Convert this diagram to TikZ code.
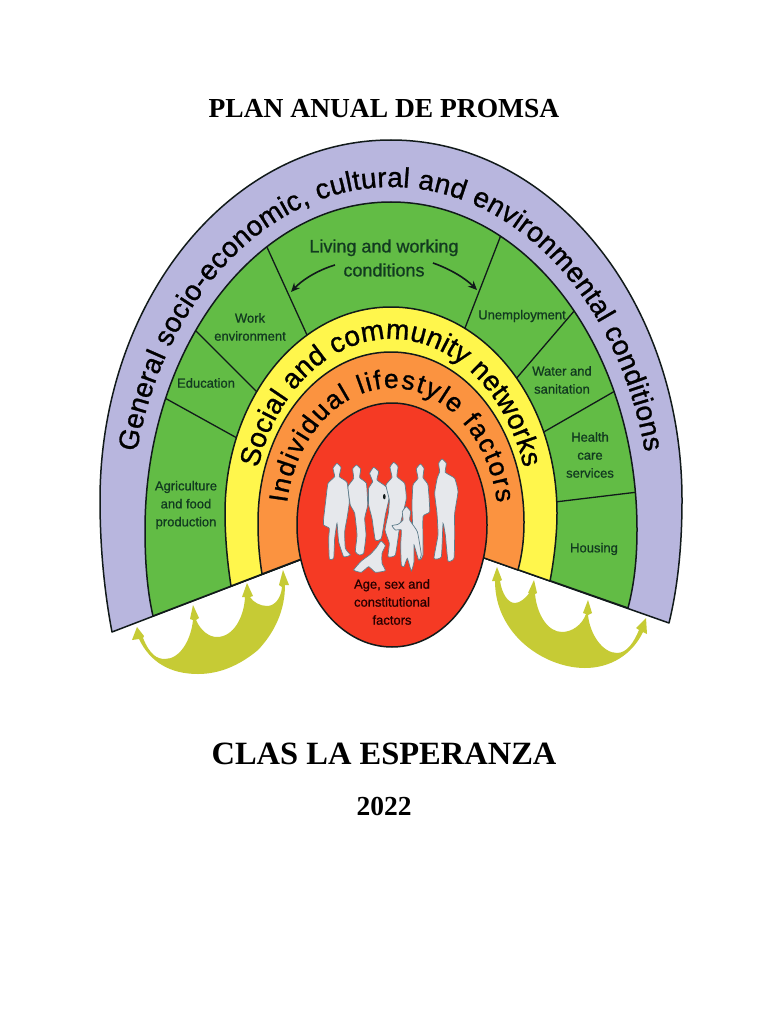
\documentclass[tikz,border=0pt]{standalone}
\usepackage{fontspec}
\setmainfont{Liberation Serif}
\newfontfamily\lab[FakeBold=0.8]{Liberation Sans}
\newfontfamily\arcf[FakeBold=1.0]{Liberation Sans}
\usetikzlibrary{decorations.text,arrows.meta}
\definecolor{cPurple}{HTML}{B8B6DE}
\definecolor{cGreen}{HTML}{62BC45}
\definecolor{cYellow}{HTML}{FFF64C}
\definecolor{cOrange}{HTML}{FB9340}
\definecolor{cRed}{HTML}{F53A24}
\definecolor{cOlive}{HTML}{C6CB35}
\definecolor{cInk}{HTML}{111A1A}
\definecolor{cLab}{HTML}{123A20}
\definecolor{cPerson}{HTML}{E6E8EC}
\definecolor{cEdge}{HTML}{5E7D8C}
\tikzset{
  band/.style={draw=cInk,line width=1.5pt,line join=round},
  divider/.style={draw=cInk,line width=1.3pt},
  lbl/.style={font=\lab\fontsize{13}{18}\selectfont,text=cLab,align=center,inner sep=0pt},
  bigl/.style={font=\lab\fontsize{18}{24}\selectfont,text=cLab,align=center,inner sep=0pt},
  redl/.style={font=\lab\fontsize{13}{18}\selectfont,text=black!85!red,align=center,inner sep=0pt},
  ttl/.style={inner sep=0pt},
  curved/.style={draw=cInk,line width=1.6pt,-{Stealth[length=9pt,width=8pt,inset=3pt]}},
  person/.style={fill=cPerson,draw=cEdge,line width=.7pt},
  arctext/.style={decorate,decoration={text along path,text align={fit to path}}}
}
\def\greenshape{(153,616) .. controls (147,590) and (145,560) .. (145,530) .. controls (145,349) and (255,202) .. (391,202) .. controls (527,202) and (637,349) .. (637,530) .. controls (637,560) and (634,585) .. (628,608) -- (391,525) -- cycle}
\begin{document}
\begin{tikzpicture}[x=1pt,y=-1pt]
\useasboundingbox[fill=white] (0,0) rectangle (768,1024);
% titles
\node[ttl,font=\bfseries\fontsize{27.5}{30}\selectfont] (t1) at (384,109) {PLAN ANUAL DE PROMSA};
\node[ttl,font=\bfseries\fontsize{32.5}{40}\selectfont] (t2) at (384,754) {CLAS LA ESPERANZA};
\node[ttl,font=\bfseries\fontsize{27.5}{30}\selectfont] (t3) at (384,806) {2022};
% nested bands
\path[band,fill=cPurple] (112,632) .. controls (104,590) and (100,545) .. (100,500) .. controls (100,301) and (230,140) .. (391,140) .. controls (552,140) and (682,301) .. (682,500) .. controls (682,550) and (677,590) .. (669,623) -- (391,525) -- cycle;
\path[band,fill=cGreen] \greenshape;
% dividers
\coordinate (d1a) at (237,438); \coordinate (d1b) at (163,397);
\coordinate (d2a) at (257,392); \coordinate (d2b) at (193,328);
\coordinate (d3a) at (307,335); \coordinate (d3b) at (266,245);
\coordinate (d4a) at (465,328); \coordinate (d4b) at (501,235);
\coordinate (d5a) at (515,380); \coordinate (d5b) at (575,310);
\coordinate (d6a) at (542,433); \coordinate (d6b) at (615,391);
\coordinate (d7a) at (555,502); \coordinate (d7b) at (638,492);
\begin{scope}
\clip \greenshape;
\foreach \n in {1,...,7}{\draw[divider] (d\n a) -- (d\n b);}
\end{scope}
\path[band,fill=cYellow] (231,586) .. controls (227,560) and (225,535) .. (225,513) .. controls (225,399) and (299,307) .. (391,307) .. controls (483,307) and (557,399) .. (557,513) .. controls (557,535) and (554,560) .. (550,581) -- (391,525) -- cycle;
\path[band,fill=cOrange] (262,574) .. controls (259,555) and (258,540) .. (258,522) .. controls (258,428) and (317.5,352) .. (391,352) .. controls (464.5,352) and (524,428) .. (524,522) .. controls (524,540) and (522,555) .. (518,570) -- (391,525) -- cycle;
\draw[band,fill=cRed] (392,525) ellipse [x radius=95,y radius=122];
% arc text
\begin{scope}[transform canvas={scale=4},x=.25pt,y=-.25pt]
\path[arctext,decoration={text={|\arcf\fontsize{7}{7}\selectfont|General socio-economic, cultural and environmental conditions}}] (136.8,452) .. controls (164.4,296.7) and (269.6,187) .. (391,187) .. controls (512.4,187) and (617.6,296.7) .. (645,452);
\path[arctext,decoration={text={|\arcf\fontsize{7}{7}\selectfont|Social and community networks}}] (258,468) .. controls (276,391.4) and (330,339) .. (391,339) .. controls (452,339) and (506,391.4) .. (524,468);
\path[arctext,decoration={text={|\arcf\fontsize{6.6}{6.6}\selectfont|Individual lifestyle factors}}] (287,503) .. controls (295.2,436.7) and (340.5,388) .. (392,388) .. controls (443.5,388) and (488.8,436.7) .. (497,503);
\end{scope}
% labels
\node[lbl] (agri) at (186,505) {Agriculture\\and food\\production};
\node[lbl] (edu) at (206,383) {Education};
\node[lbl] (work) at (250,327) {Work\\environment};
\node[bigl] (live) at (384,258) {Living and working\\conditions};
\node[lbl] (unem) at (522,316) {Unemployment};
\node[lbl] (wat) at (562,380) {Water and\\sanitation};
\node[lbl] (hea) at (590,455) {Health\\care\\services};
\node[lbl] (hou) at (594,549) {Housing};
\node[redl] (age) at (392,602) {Age, sex and\\constitutional\\factors};
% curved arrows
\coordinate (aLs) at (335,265); \coordinate (aRs) at (433,263);
\coordinate (aL) at (291,292); \coordinate (aR) at (477,290);
\draw[curved] (aLs) .. controls (318,270) and (302,280) .. (aL);
\draw[curved] (aRs) .. controls (450,269) and (465,278) .. (aR);
% olive arrows
\fill[cOlive] (137,627) -- (144,636) -- (143,638) .. controls (150,655) and (157,659) .. (165,659) .. controls (180,659) and (191,640) .. (193,620) -- (190,619) -- (193,605) -- (199,618) -- (196,620) .. controls (201,631) and (209,637) .. (217,637) .. controls (233,637) and (244,618) .. (245,597) -- (242,597) -- (247,583) -- (253,596) -- (250,597) .. controls (253,602) and (260,606) .. (267,606) .. controls (275,606) and (281,598) .. (282,587) -- (279,585) -- (283,570) -- (289,585) -- (285,585) .. controls (285,610) and (275,632) .. (258,650) .. controls (240,665) and (220,674) .. (198,674) .. controls (170,674) and (150,662) .. (139,639) -- (132,640) -- cycle;
\fill[cOlive] (497,567) -- (502,580) -- (500,581) .. controls (502,594) and (508,603) .. (515,603) .. controls (520,603) and (526,598) .. (530,592) -- (528,593) -- (534,580) -- (537,593) -- (535,594) .. controls (537,615) and (548,632) .. (562,632) .. controls (572,632) and (582,625) .. (586,614) -- (583,613) -- (588,600) -- (592,613) -- (588,615) .. controls (590,635) and (603,653) .. (617,653) .. controls (627,653) and (634,642) .. (639,630) -- (636,628) -- (646,618) -- (647,634) -- (643,632) .. controls (632,655) and (610,668) .. (585,668) .. controls (545,668) and (495,635) .. (495,581) -- (492,581) -- cycle;
% people
\begin{scope}[shift={(320,450)},x=0.3333pt,y=-0.3333pt]
\path[person] plot[smooth cycle,tension=.25] coordinates {(51,40)(63,53)(58,80)(81,97)(88,155)(81,205)(74,245)(76,295)(91,315)(71,320)(56,275)(51,220)(44,265)(41,325)(28,327)(26,265)(28,235)(11,225)(11,205)(18,145)(24,100)(44,80)(39,55)};
\path[person] plot[smooth cycle,tension=.25] coordinates {(109,45)(122,57)(119,83)(139,100)(143,165)(134,205)(138,255)(131,310)(118,315)(106,305)(111,255)(104,190)(91,165)(84,110)(101,85)(98,57)};
\path[person] plot[smooth cycle,tension=.25] coordinates {(161,52)(176,65)(171,90)(198,110)(208,140)(196,195)(184,265)(166,270)(156,205)(146,165)(146,115)(158,95)(149,70)};
\fill[cInk] (193,140) ellipse [x radius=4,y radius=8];
\path[person] plot[smooth cycle,tension=.25] coordinates {(221,37)(234,50)(231,80)(254,100)(259,145)(249,190)(239,230)(226,315)(204,320)(208,280)(195,240)(205,190)(208,150)(198,105)(216,82)(210,52)};
\path[person] plot[smooth cycle,tension=.25] coordinates {(301,42)(312,55)(309,83)(324,105)(329,185)(309,200)(309,315)(299,330)(289,305)(279,250)(276,165)(279,105)(294,85)(289,57)};
\path[person] plot[smooth cycle,tension=.25] coordinates {(366,27)(379,40)(376,67)(404,85)(414,125)(404,190)(404,255)(402,325)(384,333)(376,255)(369,220)(364,320)(342,325)(354,255)(351,190)(344,130)(352,83)(359,65)(356,40)};
\path[person] plot[smooth cycle,tension=.25] coordinates {(259,170)(272,185)(269,210)(292,245)(304,315)(296,330)(282,285)(282,335)(274,363)(262,325)(252,350)(244,345)(242,285)(244,240)(226,240)(216,227)(234,223)(249,210)(247,185)};
\path[person] plot[smooth cycle,tension=.25] coordinates {(183,273)(196,287)(186,310)(186,340)(196,362)(166,367)(146,350)(124,367)(101,360)(124,333)(151,313)(169,293)};
\end{scope}
\end{tikzpicture}
\end{document}
